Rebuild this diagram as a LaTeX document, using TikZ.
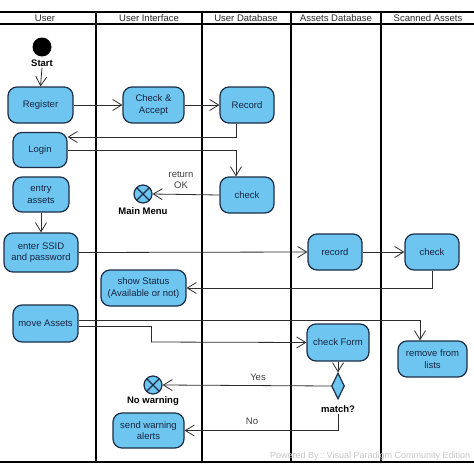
\documentclass[tikz,border=0pt]{standalone}
\usepackage{fontspec}
\setmainfont{Liberation Sans}
\usetikzlibrary{arrows.meta,shapes.geometric}
\definecolor{actfill}{RGB}{110,198,240}
\definecolor{actdraw}{RGB}{28,45,72}
\definecolor{acttext}{RGB}{22,36,66}
\definecolor{flow}{RGB}{45,45,45}
\definecolor{wm}{RGB}{200,200,200}
\begin{document}
\begin{tikzpicture}[x=1pt,y=-1pt,
  font=\fontsize{9.5}{11.5}\selectfont,
  act/.style={draw=actdraw, fill=actfill, line width=1.2pt, rounded corners=9pt,
    text=acttext, align=center, inner sep=0pt},
  flowline/.style={draw=flow, line width=0.8pt, -{Straight Barb[length=9pt,width=11pt]}},
  plainline/.style={draw=flow, line width=0.8pt},
  lane/.style={line width=2.2pt, black},
  head/.style={text=black!85},
  blabel/.style={font=\fontsize{9.5}{11.5}\selectfont\bfseries, text=black, inner sep=1pt},
  note/.style={text=black!75, align=center, inner sep=0pt},
  final/.style={circle, draw=actdraw, fill=actfill, line width=1.2pt, minimum size=18pt, inner sep=0pt,
    path picture={\draw[actdraw, line width=1.1pt]
      (path picture bounding box.south west) -- (path picture bounding box.north east)
      (path picture bounding box.north west) -- (path picture bounding box.south east);}}
]
\useasboundingbox (0,0) rectangle (474,474);
\fill[white] (0,0) rectangle (474,474);

% swimlanes
\draw[lane] (-3,12) -- (477,12);
\draw[lane] (-3,24) -- (477,24);
\draw[lane] (-3,462) -- (477,462);
\foreach \xx in {96,202,291,381} \draw[lane] (\xx,12) -- (\xx,462);
\node[head] (h1) at (45,18) {User};
\node[head] (h2) at (149,18) {User Interface};
\node[head] (h3) at (246,18) {User Database};
\node[head] (h4) at (336,18) {Assets Database};
\node[head] (h5) at (428,18) {Scanned Assets};

% nodes
\node[circle, fill=black, minimum size=19pt, inner sep=0pt] (start) at (42,47) {};
\node[blabel] (startl) at (42,63) {Start};
\node[act, minimum width=65pt, minimum height=36pt] (register) at (40.5,105) {Register};
\node[act, minimum width=61pt, minimum height=36pt] (checkacc) at (153.5,105) {Check \&\\Accept};
\node[act, minimum width=54pt, minimum height=36pt] (record) at (247,105) {Record};
\node[act, minimum width=54pt, minimum height=35pt] (login) at (40,150) {Login};
\node[act, minimum width=56pt, minimum height=35pt] (entry) at (41,194.5) {entry\\assets};
\node[act, minimum width=74pt, minimum height=39pt] (ssid) at (41,252.5) {enter SSID\\and password};
\node[final] (mainmenu) at (143,194) {};
\node[blabel] (mainmenul) at (143,211) {Main Menu};
\node[act, minimum width=54pt, minimum height=36pt] (check1) at (247,195) {check};
\node[note] (retok) at (181,180) {return\\OK};
\node[act, minimum width=85pt, minimum height=36pt] (status) at (143.5,288) {show Status\\(Available or not)};
\node[act, minimum width=54pt, minimum height=36pt] (record2) at (335,252) {record};
\node[act, minimum width=54pt, minimum height=36pt] (check2) at (432,252) {check};
\node[act, minimum width=65pt, minimum height=37pt] (move) at (45.5,323.5) {move Assets};
\node[act, minimum width=62pt, minimum height=37pt] (checkform) at (338,342.5) {check Form};
\node[diamond, draw=actdraw, fill=actfill, line width=1.2pt, minimum width=13pt, minimum height=26pt, inner sep=0pt] (dec) at (338,386) {};
\node[blabel] (match) at (338,409) {match?};
\node[final] (nowarn) at (153,385) {};
\node[blabel] (nowarnl) at (153,401) {No warning};
\node[act, minimum width=71pt, minimum height=35pt] (send) at (148.5,430.5) {send warning\\alerts};
\node[act, minimum width=69pt, minimum height=36pt] (remove) at (432.5,359) {remove from\\lists};
\node[note] (yes) at (258,377) {Yes};
\node[note] (no) at (252,421) {No};
\coordinate (bend) at (151,342);

% flows
\draw[flowline] (startl.south) -- (register.north);
\draw[flowline] (register.east) -- (checkacc.west);
\draw[flowline] (checkacc.east) -- (record.west);
\draw[flowline] ([xshift=-11pt]record.south) |- ([yshift=13pt]login.east);
\draw[flowline] (login.east) -| ([xshift=-11pt]check1.north);
\draw[flowline] (check1.west) -- (mainmenu.east);
\draw[flowline] (entry.south) -- (ssid.north);
\draw[flowline] (ssid.east) -- (record2.west);
\draw[flowline] (record2.east) -- (check2.west);
\draw[flowline] (check2.south) |- (status.east);
\draw[flowline] ([yshift=3.5pt]move.east) -| ([xshift=-12.5pt]remove.north);
\draw[plainline] ([yshift=-2.5pt]move.east) -| (bend);
\draw[flowline] (bend) -- (checkform.west);
\draw[flowline] (checkform.south) -- (dec.north);
\draw[flowline] (dec.west) -- (nowarn.east);
\draw[flowline] (match.south) |- (send.east);

% watermark
\node[text=wm, anchor=west, font=\fontsize{9}{10}\selectfont, inner sep=0pt] (wmark) at (270,456) {Powered By\,::\,Visual Paradigm Community Edition};
\end{tikzpicture}
\end{document}
